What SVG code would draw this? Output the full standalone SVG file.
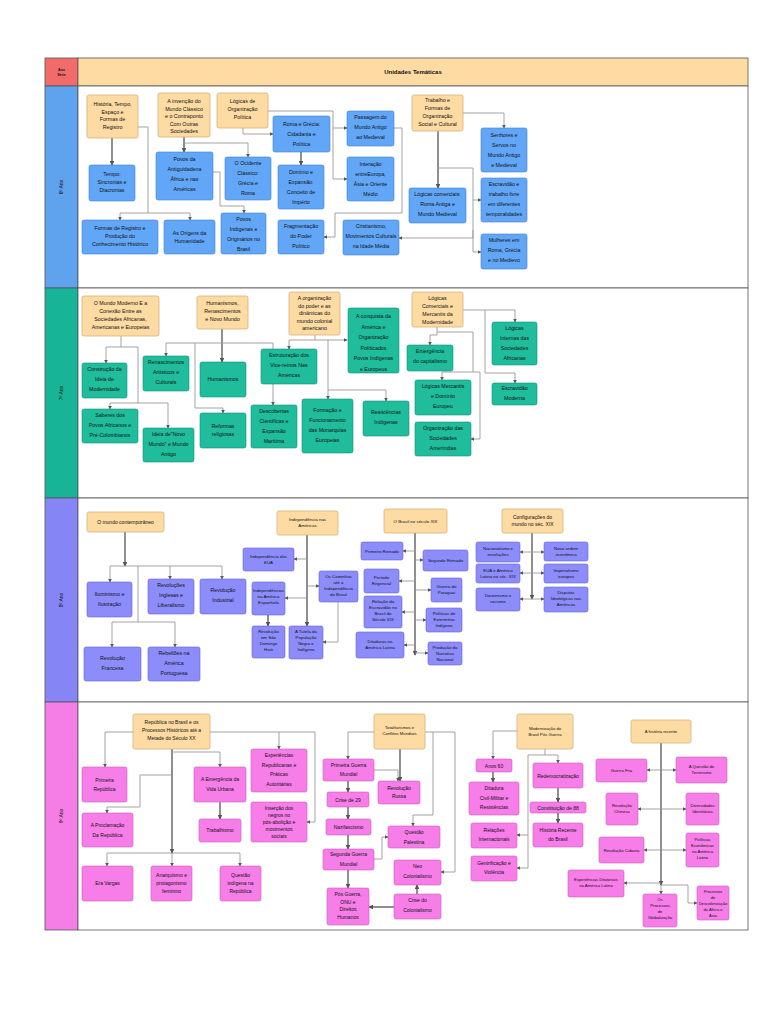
<svg xmlns="http://www.w3.org/2000/svg" width="768" height="1024" viewBox="0 0 768 1024">
<defs>
<marker id="a" viewBox="0 0 6 6" refX="5" refY="3" markerWidth="4" markerHeight="4" orient="auto"><path d="M0,0L6,3L0,6z" fill="#555"/></marker>
<style>
text{font-family:"Liberation Sans",Arial,sans-serif;text-anchor:middle;fill:#111}
.o{fill:#fddba3;stroke:#d6b17a;stroke-width:.8}
.b{fill:#62a6f7;stroke:#3d7fd0;stroke-width:.6}
.t{fill:#1fbd9c;stroke:#12907a;stroke-width:.6}
.p{fill:#8c8cfb;stroke:#6262d0;stroke-width:.6}
.k{fill:#f77ee9;stroke:#c85abc;stroke-width:.6}
.c path{fill:none;stroke:#999;stroke-width:.9;marker-end:url(#a)}
.c path.d{stroke:#444;stroke-width:1.2}
.f6 text,.f7 text{font-size:5.3px}
.f8 text{font-size:4.4px}
.f9 text{font-size:5px}
.lab{font-size:5px}
</style>
</defs>
<rect width="768" height="1024" fill="#fff"/>
<!-- frame -->
<g id="frame">
<rect x="45" y="58" width="33" height="28" fill="#f26b6b" stroke="#555" stroke-width=".8"/>
<rect x="78" y="58" width="670" height="28" fill="#fddba3" stroke="#555" stroke-width=".8"/>
<text x="61.5" y="71" style="font-size:3.5px;font-weight:bold">Ano</text>
<text x="61.5" y="76" style="font-size:3.5px;font-weight:bold">Série</text>
<text x="413" y="74" style="font-size:6px;font-weight:bold">Unidades Temáticas</text>
<rect x="45" y="86" width="33" height="202" fill="#5fa2ee" stroke="#555" stroke-width=".8"/>
<rect x="78" y="86" width="670" height="202" fill="#fff" stroke="#555" stroke-width=".8"/>
<rect x="45" y="288" width="33" height="210" fill="#17b497" stroke="#555" stroke-width=".8"/>
<rect x="78" y="288" width="670" height="210" fill="#fff" stroke="#555" stroke-width=".8"/>
<rect x="45" y="498" width="33" height="204" fill="#8585f5" stroke="#555" stroke-width=".8"/>
<rect x="78" y="498" width="670" height="204" fill="#fff" stroke="#555" stroke-width=".8"/>
<rect x="45" y="702" width="33" height="228" fill="#f57ee6" stroke="#555" stroke-width=".8"/>
<rect x="78" y="702" width="670" height="228" fill="#fff" stroke="#555" stroke-width=".8"/>
<text class="lab" transform="translate(63,187) rotate(-90)">6º Ano</text>
<text class="lab" transform="translate(63,393) rotate(-90)">7º Ano</text>
<text class="lab" transform="translate(63,600) rotate(-90)">8º Ano</text>
<text class="lab" transform="translate(63,816) rotate(-90)">9º Ano</text>
</g>

<g id="connectors" class="c">
<!-- 6 -->
<path class="d" d="M112,138V165"/>
<path d="M138,127H148V213H120V220"/>
<path d="M148,213H190V220"/>
<path class="d" d="M184,137V152"/>
<path d="M184,143H248V157"/>
<path d="M213,172H220V206H244V213"/>
<path d="M243,128V134H273"/>
<path d="M268,111H333V128H347"/>
<path d="M333,128V179H347"/>
<path class="d" d="M301,152V165"/>
<path d="M394,128H402V213H335V237H324"/>
<path d="M463,113H504V128"/>
<path class="d" d="M438,131V188"/>
<path d="M438,168H473V200H481"/>
<path d="M473,200V252H481"/>
<path d="M473,230V238H399"/>
<!-- 7 -->
<path d="M121,336V347H106V363"/>
<path d="M121,347H138V403H110V409"/>
<path d="M138,403H168V428"/>
<path class="d" d="M222,329V362"/>
<path d="M222,343H166V356"/>
<path d="M195,343V408H223V413"/>
<path d="M222,343H273V405"/>
<path d="M315,335V340H289V349"/>
<path d="M315,340H347"/>
<path d="M328,340V390H386V401"/>
<path d="M328,390V399"/>
<path d="M463,310H515V322"/>
<path d="M485,310V373H515V383"/>
<path d="M437,327V335H430V345"/>
<path d="M437,332H473V372H442V380"/>
<path d="M473,372H480V439H471"/>
<!-- 8 -->
<path class="d" d="M125,532V566"/>
<path d="M125,566H110V582"/>
<path d="M125,566H170V579"/>
<path d="M170,566H222V579"/>
<path d="M138,566V622H112V647"/>
<path d="M138,622H175V647"/>
<path class="d" d="M307,535V626"/>
<path d="M307,559H294"/>
<path d="M307,598H285"/>
<path d="M307,586H319"/>
<path d="M338,602V642H323"/>
<path class="d" d="M268,615V626"/>
<path class="d" d="M415,533V655"/>
<path d="M415,551H403"/><path d="M415,581H399"/><path d="M415,612H402"/><path d="M415,645H404"/>
<path d="M415,560H423"/><path d="M415,590H431"/><path d="M415,620H426"/><path d="M415,653H428"/>
<path class="d" d="M532,533V599"/>
<path d="M532,552H520"/><path d="M532,573H520"/><path d="M532,599H520"/>
<path d="M532,552H544"/><path d="M532,573H544"/><path d="M532,599H544"/>
<!-- 9 -->
<path class="d" d="M172,749V853"/>
<path d="M133,732H105V767"/>
<path d="M172,775H140V807H107V813"/>
<path d="M172,752H220V767"/>
<path d="M210,732H279V749"/>
<path d="M279,732H315V822H307"/>
<path class="d" d="M220,802V819"/>
<path d="M172,853H107V866"/>
<path d="M172,853V866"/>
<path d="M172,853H240V866"/>
<path d="M374,732H348V759"/>
<path class="d" d="M400,749V781"/>
<path d="M374,770H398V781"/>
<path d="M425,732H433V815H413V826"/>
<path d="M433,732H455V872H441"/>
<path class="d" d="M348,781V792"/>
<path class="d" d="M348,807V819"/>
<path class="d" d="M348,835V849"/>
<path class="d" d="M348,870V888"/>
<path d="M374,859H382V837H388"/>
<path class="d" d="M394,907H369"/>
<path class="d" d="M417,894V885"/>
<path d="M517,731H493V759"/>
<path class="d" d="M493,772V782"/>
<path d="M545,749V755H528V835H517"/>
<path d="M528,835V868H517"/>
<path d="M545,755H558V763"/>
<path class="d" d="M558,788V802"/>
<path class="d" d="M558,813V823"/>
<path class="d" d="M661,743V885"/>
<path d="M661,770H647"/><path d="M661,809H638"/><path d="M661,850H644"/><path d="M661,883H624"/>
<path d="M661,770H676"/><path d="M661,809H686"/><path d="M661,850H686"/>
<path d="M661,885V894"/>
<path d="M661,885H688V903H697"/>
</g>

<!-- 6º ano -->
<g class="f6">
<g id="n6a"><rect class="o" x="87" y="95" width="51" height="43" rx="2"/><text x="112.5" y="106">História, Tempo,<tspan x="112.5" dy="7.5">Espaço e</tspan><tspan x="112.5" dy="7.5">Formas de</tspan><tspan x="112.5" dy="7.5">Registro</tspan></text></g>
<g id="n6b"><rect class="b" x="89" y="165" width="46" height="36" rx="2"/><text x="112" y="176">Tempo:<tspan x="112" dy="8">Sincronias e</tspan><tspan x="112" dy="8">Diacronias</tspan></text></g>
<g id="n6c"><rect class="b" x="82" y="220" width="76" height="34" rx="2"/><text x="120" y="230">Formas de Registro e<tspan x="120" dy="8">Produção do</tspan><tspan x="120" dy="8">Conhecimento Histórico</tspan></text></g>
<g id="n6d"><rect class="b" x="164" y="220" width="51" height="34" rx="2"/><text x="189.5" y="235">As Origens da<tspan x="189.5" dy="8">Humanidade</tspan></text></g>
<g id="n6e"><rect class="o" x="158" y="93" width="52" height="44" rx="2"/><text x="184" y="103">A invenção do<tspan x="184" dy="7.5">Mundo Clássico</tspan><tspan x="184" dy="7.5">e o Contraponto</tspan><tspan x="184" dy="7.5">Com Outras</tspan><tspan x="184" dy="7.5">Sociedades</tspan></text></g>
<g id="n6f"><rect class="b" x="156" y="152" width="57" height="48" rx="2"/><text x="184.5" y="161">Povos da<tspan x="184.5" dy="10">Antiguidadena</tspan><tspan x="184.5" dy="10">África e nas</tspan><tspan x="184.5" dy="10">Américas</tspan></text></g>
<g id="n6g"><rect class="b" x="225" y="157" width="46" height="43" rx="2"/><text x="248" y="165">O Ocidente<tspan x="248" dy="10">Clássico:</tspan><tspan x="248" dy="10">Grécia e</tspan><tspan x="248" dy="10">Roma</tspan></text></g>
<g id="n6h"><rect class="b" x="221" y="213" width="45" height="41" rx="2"/><text x="243.5" y="221">Povos<tspan x="243.5" dy="10">Indígenas e</tspan><tspan x="243.5" dy="10">Originários no</tspan><tspan x="243.5" dy="10">Brasil</tspan></text></g>
<g id="n6i"><rect class="o" x="217" y="93" width="51" height="35" rx="2"/><text x="242.5" y="103">Lógicas de<tspan x="242.5" dy="8">Organização</tspan><tspan x="242.5" dy="8">Política</tspan></text></g>
<g id="n6j"><rect class="b" x="273" y="116" width="57" height="36" rx="2"/><text x="301.5" y="126">Roma e Grécia:<tspan x="301.5" dy="10">Cidadania e</tspan><tspan x="301.5" dy="10">Política</tspan></text></g>
<g id="n6k"><rect class="b" x="278" y="165" width="46" height="44" rx="2"/><text x="301" y="174">Domínio e<tspan x="301" dy="10">Expansão:</tspan><tspan x="301" dy="10">Conceito de</tspan><tspan x="301" dy="10">Império</tspan></text></g>
<g id="n6l"><rect class="b" x="278" y="220" width="46" height="34" rx="2"/><text x="301" y="228">Fragmentação<tspan x="301" dy="10">do Poder</tspan><tspan x="301" dy="10">Político</tspan></text></g>
<g id="n6m"><rect class="b" x="347" y="111" width="47" height="35" rx="2"/><text x="370.5" y="119">Passagem do<tspan x="370.5" dy="10">Mundo Antigo</tspan><tspan x="370.5" dy="10">ao Medieval</tspan></text></g>
<g id="n6n"><rect class="b" x="347" y="157" width="47" height="44" rx="2"/><text x="370.5" y="166">Interação<tspan x="370.5" dy="10">entreEuropa,</tspan><tspan x="370.5" dy="10">Ásia e Oriente</tspan><tspan x="370.5" dy="10">Médio</tspan></text></g>
<g id="n6o"><rect class="b" x="343" y="220" width="56" height="35" rx="2"/><text x="371" y="228">Cristianismo,<tspan x="371" dy="10">Movimentos Culturais</tspan><tspan x="371" dy="10">na Idade Média</tspan></text></g>
<g id="n6p"><rect class="o" x="412" y="95" width="51" height="36" rx="2"/><text x="437.5" y="102">Trabalho e<tspan x="437.5" dy="8">Formas de</tspan><tspan x="437.5" dy="8">Organização</tspan><tspan x="437.5" dy="8">Social e Cultural</tspan></text></g>
<g id="n6q"><rect class="b" x="481" y="128" width="46" height="44" rx="2"/><text x="504" y="137">Senhores e<tspan x="504" dy="10">Servos no</tspan><tspan x="504" dy="10">Mundo Antigo</tspan><tspan x="504" dy="10">e Medieval</tspan></text></g>
<g id="n6r"><rect class="b" x="409" y="188" width="57" height="35" rx="2"/><text x="437.5" y="196">Lógicas comerciais:<tspan x="437.5" dy="10">Roma Antiga e</tspan><tspan x="437.5" dy="10">Mundo Medieval</tspan></text></g>
<g id="n6s"><rect class="b" x="481" y="178" width="46" height="44" rx="2"/><text x="504" y="186">Escravidão e<tspan x="504" dy="10">trabalho livre</tspan><tspan x="504" dy="10">em diferentes</tspan><tspan x="504" dy="10">temporalidades</tspan></text></g>
<g id="n6t"><rect class="b" x="481" y="234" width="46" height="35" rx="2"/><text x="504" y="242">Mulheres em<tspan x="504" dy="10">Roma, Grécia</tspan><tspan x="504" dy="10">e no Medievo</tspan></text></g>
</g>

<!-- 7º ano -->
<g class="f7">
<g id="n7a"><rect class="o" x="82" y="296" width="77" height="40" rx="2"/><text x="120.5" y="305">O Mundo Moderno E a<tspan x="120.5" dy="8">Conexão Entre as</tspan><tspan x="120.5" dy="8">Sociedades Africanas,</tspan><tspan x="120.5" dy="8">Americanas e Europeias</tspan></text></g>
<g id="n7b"><rect class="t" x="82" y="363" width="45" height="35" rx="2"/><text x="104.5" y="371">Construção da<tspan x="104.5" dy="10">Ideia de</tspan><tspan x="104.5" dy="10">Modernidade</tspan></text></g>
<g id="n7c"><rect class="t" x="82" y="409" width="56" height="34" rx="2"/><text x="110" y="417">Saberes dos<tspan x="110" dy="10">Povos Africanos e</tspan><tspan x="110" dy="10">Pré-Colombianos</tspan></text></g>
<g id="n7d"><rect class="t" x="143" y="428" width="51" height="34" rx="2"/><text x="168.5" y="436">Ideia de"Novo<tspan x="168.5" dy="10">Mundo" e Mundo</tspan><tspan x="168.5" dy="10">Antigo</tspan></text></g>
<g id="n7e"><rect class="o" x="197" y="296" width="51" height="33" rx="2"/><text x="222.5" y="305">Humanismos,<tspan x="222.5" dy="8">Renascimentos</tspan><tspan x="222.5" dy="8">e Novo Mundo</tspan></text></g>
<g id="n7f"><rect class="t" x="143" y="356" width="46" height="35" rx="2"/><text x="166" y="364">Renascimentos<tspan x="166" dy="10">Artísticos e</tspan><tspan x="166" dy="10">Culturais</tspan></text></g>
<g id="n7g"><rect class="t" x="200" y="362" width="46" height="35" rx="2"/><text x="223" y="381">Humanismos</text></g>
<g id="n7h"><rect class="t" x="200" y="413" width="46" height="35" rx="2"/><text x="223" y="428">Reformas<tspan x="223" dy="8">religiosas</tspan></text></g>
<g id="n7i"><rect class="t" x="251" y="405" width="46" height="43" rx="2"/><text x="274" y="413">Descobertas<tspan x="274" dy="10">Científicas e</tspan><tspan x="274" dy="10">Expansão</tspan><tspan x="274" dy="10">Marítima</tspan></text></g>
<g id="n7j"><rect class="o" x="289" y="292" width="51" height="43" rx="2"/><text x="314.5" y="300">A organização<tspan x="314.5" dy="7.5">do poder e as</tspan><tspan x="314.5" dy="7.5">dinâmicas do</tspan><tspan x="314.5" dy="7.5">mundo colonial</tspan><tspan x="314.5" dy="7.5">americano</tspan></text></g>
<g id="n7k"><rect class="t" x="261" y="349" width="56" height="35" rx="2"/><text x="289" y="357">Estruturação dos<tspan x="289" dy="10">Vice-reinos Nas</tspan><tspan x="289" dy="10">Américas</tspan></text></g>
<g id="n7l"><rect class="t" x="302" y="399" width="51" height="54" rx="2"/><text x="327.5" y="412">Formação e<tspan x="327.5" dy="10">Funcionamento</tspan><tspan x="327.5" dy="10">das Monarquias</tspan><tspan x="327.5" dy="10">Europeias</tspan></text></g>
<g id="n7m"><rect class="t" x="348" y="308" width="51" height="65" rx="2"/><text x="373.5" y="318">A conquista da<tspan x="373.5" dy="10.5">América e</tspan><tspan x="373.5" dy="10.5">Organização</tspan><tspan x="373.5" dy="10.5">Políticados</tspan><tspan x="373.5" dy="10.5">Povos Indígenas</tspan><tspan x="373.5" dy="10.5">e Europeus</tspan></text></g>
<g id="n7n"><rect class="t" x="363" y="401" width="46" height="35" rx="2"/><text x="386" y="414">Resistências<tspan x="386" dy="10">Indígenas</tspan></text></g>
<g id="n7o"><rect class="o" x="412" y="292" width="51" height="35" rx="2"/><text x="437.5" y="300">Lógicas<tspan x="437.5" dy="8">Comerciais e</tspan><tspan x="437.5" dy="8">Mercantis da</tspan><tspan x="437.5" dy="8">Modernidade</tspan></text></g>
<g id="n7p"><rect class="t" x="407" y="345" width="46" height="26" rx="2"/><text x="430" y="353">Emergência<tspan x="430" dy="10">do capitalismo</tspan></text></g>
<g id="n7q"><rect class="t" x="415" y="380" width="56" height="35" rx="2"/><text x="443" y="388">Lógicas Mercantis<tspan x="443" dy="10">e Domínio</tspan><tspan x="443" dy="10">Europeu</tspan></text></g>
<g id="n7r"><rect class="t" x="415" y="422" width="56" height="34" rx="2"/><text x="443" y="430">Organização das<tspan x="443" dy="10">Sociedades</tspan><tspan x="443" dy="10">Ameríndias</tspan></text></g>
<g id="n7s"><rect class="t" x="492" y="322" width="45" height="43" rx="2"/><text x="514.5" y="330">Lógicas<tspan x="514.5" dy="10">Internas das</tspan><tspan x="514.5" dy="10">Sociedades</tspan><tspan x="514.5" dy="10">Africanas</tspan></text></g>
<g id="n7t"><rect class="t" x="492" y="383" width="45" height="22" rx="2"/><text x="514.5" y="390">Escravidão<tspan x="514.5" dy="10">Moderna</tspan></text></g>
</g>

<!-- 8º ano -->
<g class="f8">
<g id="n8a"><rect class="o" x="87" y="512" width="77" height="20" rx="2"/><text x="125.5" y="523.5" style="font-size:5px">O mundo contemporâneo</text></g>
<g id="n8b"><rect class="p" x="87" y="582" width="45" height="35" rx="2"/><text x="109.5" y="596" style="font-size:5.3px">Iluminismo e<tspan x="109.5" dy="10">Ilustração</tspan></text></g>
<g id="n8c"><rect class="p" x="148" y="579" width="46" height="35" rx="2"/><text x="171" y="587" style="font-size:5.3px">Revoluções<tspan x="171" dy="10">Inglesas e</tspan><tspan x="171" dy="10">Liberalismo</tspan></text></g>
<g id="n8d"><rect class="p" x="200" y="579" width="46" height="35" rx="2"/><text x="223" y="592" style="font-size:5.3px">Revolução<tspan x="223" dy="10">Industrial</tspan></text></g>
<g id="n8e"><rect class="p" x="84" y="647" width="57" height="34" rx="2"/><text x="112.5" y="660" style="font-size:5.3px">Revolução<tspan x="112.5" dy="10">Francesa</tspan></text></g>
<g id="n8f"><rect class="p" x="148" y="647" width="52" height="34" rx="2"/><text x="174" y="655" style="font-size:5.3px">Rebeliões na<tspan x="174" dy="10">América</tspan><tspan x="174" dy="10">Portuguesa</tspan></text></g>
<g id="n8g"><rect class="o" x="277" y="511" width="61" height="24" rx="2"/><text x="307.5" y="521">Independência nas<tspan x="307.5" dy="6">Américas</tspan></text></g>
<g id="n8h"><rect class="p" x="243" y="548" width="51" height="23" rx="2"/><text x="268.5" y="558">Independência dos<tspan x="268.5" dy="6">EUA</tspan></text></g>
<g id="n8i"><rect class="p" x="252" y="582" width="33" height="33" rx="2"/><text x="268.5" y="592">Independências<tspan x="268.5" dy="6">na América</tspan><tspan x="268.5" dy="6">Espanhola</tspan></text></g>
<g id="n8j"><rect class="p" x="252" y="626" width="33" height="32" rx="2"/><text x="268.5" y="633">Revolução<tspan x="268.5" dy="6">em São</tspan><tspan x="268.5" dy="6">Domingo</tspan><tspan x="268.5" dy="6">Haiti</tspan></text></g>
<g id="n8k"><rect class="p" x="289" y="626" width="34" height="33" rx="2"/><text x="306" y="633">A Tutela da<tspan x="306" dy="6">População</tspan><tspan x="306" dy="6">Negra e</tspan><tspan x="306" dy="6">Indígena</tspan></text></g>
<g id="n8l"><rect class="p" x="319" y="571" width="39" height="31" rx="2"/><text x="338.5" y="578">Os Caminhos<tspan x="338.5" dy="6">até a</tspan><tspan x="338.5" dy="6">Independência</tspan><tspan x="338.5" dy="6">do Brasil</tspan></text></g>
<g id="n8m"><rect class="o" x="384" y="509" width="63" height="24" rx="2"/><text x="415.5" y="522.5">O Brasil no século XIX</text></g>
<g id="n8n"><rect class="p" x="361" y="542" width="42" height="18" rx="2"/><text x="382" y="552.5">Primeiro Reinado</text></g>
<g id="n8o"><rect class="p" x="423" y="550" width="45" height="21" rx="2"/><text x="445.5" y="562">Segundo Reinado</text></g>
<g id="n8p"><rect class="p" x="364" y="569" width="35" height="24" rx="2"/><text x="381.5" y="579">Período<tspan x="381.5" dy="6">Regencial</tspan></text></g>
<g id="n8q"><rect class="p" x="431" y="578" width="31" height="24" rx="2"/><text x="446.5" y="588">Guerra do<tspan x="446.5" dy="6">Paraguai</tspan></text></g>
<g id="n8r"><rect class="p" x="364" y="596" width="38" height="32" rx="2"/><text x="383" y="603">Relação da<tspan x="383" dy="6">Escravidão no</tspan><tspan x="383" dy="6">Brasil do</tspan><tspan x="383" dy="6">Século XIX</tspan></text></g>
<g id="n8s"><rect class="p" x="426" y="608" width="36" height="24" rx="2"/><text x="444" y="615">Políticas de<tspan x="444" dy="6">Extermínio</tspan><tspan x="444" dy="6">Indígena</tspan></text></g>
<g id="n8t"><rect class="p" x="356" y="632" width="48" height="26" rx="2"/><text x="380" y="643">Ditaduras na<tspan x="380" dy="6">América Latina</tspan></text></g>
<g id="n8u"><rect class="p" x="428" y="642" width="34" height="23" rx="2"/><text x="445" y="649">Produção da<tspan x="445" dy="6">Narrativa</tspan><tspan x="445" dy="6">Nacional</tspan></text></g>
<g id="n8v"><rect class="o" x="502" y="509" width="61" height="24" rx="2"/><text x="532.5" y="519" style="font-size:5px">Configurações do<tspan x="532.5" dy="7">mundo no séc. XIX</tspan></text></g>
<g id="n8w"><rect class="p" x="476" y="542" width="44" height="20" rx="2"/><text x="498" y="550">Nacionalismo e<tspan x="498" dy="6">revoluções</tspan></text></g>
<g id="n8x"><rect class="p" x="476" y="564" width="44" height="19" rx="2"/><text x="498" y="572">EUA e América<tspan x="498" dy="6">Latina no séc. XIX</tspan></text></g>
<g id="n8y"><rect class="p" x="476" y="588" width="44" height="23" rx="2"/><text x="498" y="597">Darwinismo e<tspan x="498" dy="6">racismo</tspan></text></g>
<g id="n8z"><rect class="p" x="544" y="542" width="44" height="19" rx="2"/><text x="566" y="550">Nova ordem<tspan x="566" dy="6">econômica</tspan></text></g>
<g id="n8aa"><rect class="p" x="544" y="564" width="44" height="19" rx="2"/><text x="566" y="572">Imperialismo<tspan x="566" dy="6">europeu</tspan></text></g>
<g id="n8ab"><rect class="p" x="544" y="587" width="44" height="25" rx="2"/><text x="566" y="594">Disputas<tspan x="566" dy="6">Ideológicas nas</tspan><tspan x="566" dy="6">Américas</tspan></text></g>
</g>

<!-- 9º ano -->
<g class="f9">
<g id="n9a"><rect class="o" x="133" y="714" width="77" height="35" rx="2"/><text x="171.5" y="724">República no Brasil e os<tspan x="171.5" dy="8">Processos Históricos até a</tspan><tspan x="171.5" dy="8">Metade do Século XX</tspan></text></g>
<g id="n9b"><rect class="k" x="82" y="767" width="45" height="35" rx="2"/><text x="104.5" y="782">Primeira<tspan x="104.5" dy="9">República</tspan></text></g>
<g id="n9c"><rect class="k" x="82" y="813" width="51" height="34" rx="2"/><text x="107.5" y="827">A Proclamação<tspan x="107.5" dy="10">Da República</tspan></text></g>
<g id="n9d"><rect class="k" x="82" y="866" width="51" height="35" rx="2"/><text x="107.5" y="885">Era Vargas</text></g>
<g id="n9e"><rect class="k" x="151" y="866" width="41" height="35" rx="2"/><text x="171.5" y="877">Anarquismo e<tspan x="171.5" dy="8">protagonismo</tspan><tspan x="171.5" dy="8">feminino</tspan></text></g>
<g id="n9f"><rect class="k" x="220" y="866" width="41" height="35" rx="2"/><text x="240.5" y="877">Questão<tspan x="240.5" dy="8">indígena na</tspan><tspan x="240.5" dy="8">República</tspan></text></g>
<g id="n9g"><rect class="k" x="194" y="767" width="52" height="35" rx="2"/><text x="220" y="781">A Emergência da<tspan x="220" dy="10">Vida Urbana</tspan></text></g>
<g id="n9h"><rect class="k" x="199" y="819" width="42" height="23" rx="2"/><text x="220" y="832">Trabalhismo</text></g>
<g id="n9i"><rect class="k" x="251" y="749" width="56" height="43" rx="2"/><text x="279" y="757">Experiências<tspan x="279" dy="9.5">Republicanas e</tspan><tspan x="279" dy="9.5">Práticas</tspan><tspan x="279" dy="9.5">Autoritárias</tspan></text></g>
<g id="n9j"><rect class="k" x="251" y="802" width="56" height="40" rx="2"/><text x="279" y="810">Inserção dos<tspan x="279" dy="7">negros no</tspan><tspan x="279" dy="7">pós-abolição e</tspan><tspan x="279" dy="7">movimentos</tspan><tspan x="279" dy="7">sociais</tspan></text></g>
<g id="n9k"><rect class="o" x="374" y="714" width="51" height="35" rx="2"/><text x="399.5" y="729" style="font-size:4.2px">Totalitarismos e<tspan x="399.5" dy="6">Conflitos Mundiais</tspan></text></g>
<g id="n9l"><rect class="k" x="323" y="759" width="51" height="22" rx="2"/><text x="348.5" y="767">Primeira Guerra<tspan x="348.5" dy="9">Mundial</tspan></text></g>
<g id="n9m"><rect class="k" x="378" y="781" width="42" height="23" rx="2"/><text x="399" y="790">Revolução<tspan x="399" dy="8">Russa</tspan></text></g>
<g id="n9n"><rect class="k" x="327" y="792" width="42" height="15" rx="2"/><text x="348" y="801.5">Crise de 29</text></g>
<g id="n9o"><rect class="k" x="326" y="819" width="45" height="16" rx="2"/><text x="348.5" y="828.5">Nazifascismo</text></g>
<g id="n9p"><rect class="k" x="323" y="849" width="51" height="21" rx="2"/><text x="348.5" y="856">Segunda Guerra<tspan x="348.5" dy="10">Mundial</tspan></text></g>
<g id="n9q"><rect class="k" x="388" y="826" width="52" height="22" rx="2"/><text x="414" y="834">Questão<tspan x="414" dy="10">Palestina</tspan></text></g>
<g id="n9r"><rect class="k" x="394" y="860" width="47" height="25" rx="2"/><text x="417.5" y="868">Neo<tspan x="417.5" dy="10">Colonialismo</tspan></text></g>
<g id="n9s"><rect class="k" x="394" y="894" width="47" height="25" rx="2"/><text x="417.5" y="902">Crise do<tspan x="417.5" dy="10">Colonialismo</tspan></text></g>
<g id="n9t"><rect class="k" x="327" y="888" width="42" height="37" rx="2"/><text x="348" y="896">Pós Guerra,<tspan x="348" dy="7.5">ONU e</tspan><tspan x="348" dy="7.5">Direitos</tspan><tspan x="348" dy="7.5">Humanos</tspan></text></g>
<g id="n9u"><rect class="o" x="517" y="714" width="56" height="35" rx="2"/><text x="545" y="730" style="font-size:4.2px">Modernização do<tspan x="545" dy="6">Brasil Pós Guerra</tspan></text></g>
<g id="n9v"><rect class="k" x="476" y="759" width="36" height="13" rx="2"/><text x="494" y="767.5">Anos 60</text></g>
<g id="n9w"><rect class="k" x="469" y="782" width="50" height="33" rx="2"/><text x="494" y="790">Ditadura<tspan x="494" dy="9.5">Civil-Militar e</tspan><tspan x="494" dy="9.5">Resistências</tspan></text></g>
<g id="n9x"><rect class="k" x="471" y="823" width="46" height="25" rx="2"/><text x="494" y="832">Relações<tspan x="494" dy="9">Internacionais</tspan></text></g>
<g id="n9y"><rect class="k" x="471" y="856" width="46" height="25" rx="2"/><text x="494" y="865">Gentrificação e<tspan x="494" dy="9">Violência</tspan></text></g>
<g id="n9z"><rect class="k" x="533" y="763" width="50" height="25" rx="2"/><text x="558" y="777.5">Redemocratização</text></g>
<g id="n9aa"><rect class="k" x="530" y="802" width="56" height="11" rx="2"/><text x="558" y="809.5">Constituição de 88</text></g>
<g id="n9ab"><rect class="k" x="533" y="823" width="50" height="24" rx="2"/><text x="558" y="832">História Recente<tspan x="558" dy="9">do Brasil</tspan></text></g>
<g id="n9ac"><rect class="o" x="631" y="720" width="60" height="23" rx="2"/><text x="661" y="733" style="font-size:4.2px">A história recente</text></g>
<g id="n9ad"><rect class="k" x="596" y="759" width="51" height="23" rx="2"/><text x="621.5" y="772" style="font-size:4.2px">Guerra Fria</text></g>
<g id="n9ae"><rect class="k" x="676" y="757" width="51" height="26" rx="2"/><text x="701.5" y="768" style="font-size:4.2px">A Questão do<tspan x="701.5" dy="6">Terrorismo</tspan></text></g>
<g id="n9af"><rect class="k" x="606" y="793" width="32" height="32" rx="2"/><text x="622" y="807" style="font-size:4.2px">Revolução<tspan x="622" dy="6">Chinesa</tspan></text></g>
<g id="n9ag"><rect class="k" x="686" y="793" width="33" height="32" rx="2"/><text x="702.5" y="807" style="font-size:4.2px">Diversidades<tspan x="702.5" dy="6">Identitárias</tspan></text></g>
<g id="n9ah"><rect class="k" x="599" y="837" width="45" height="26" rx="2"/><text x="621.5" y="851.5" style="font-size:4.2px">Revolução Cubana</text></g>
<g id="n9ai"><rect class="k" x="686" y="833" width="33" height="34" rx="2"/><text x="702.5" y="841" style="font-size:4.2px">Políticas<tspan x="702.5" dy="6">Econômicas</tspan><tspan x="702.5" dy="6">na América</tspan><tspan x="702.5" dy="6">Latina</tspan></text></g>
<g id="n9aj"><rect class="k" x="568" y="870" width="56" height="27" rx="2"/><text x="596" y="881" style="font-size:4.2px">Experiências Ditatoriais<tspan x="596" dy="6">na América Latina</tspan></text></g>
<g id="n9ak"><rect class="k" x="643" y="894" width="34" height="33" rx="2"/><text x="660" y="901" style="font-size:4.2px">Os<tspan x="660" dy="6">Processos</tspan><tspan x="660" dy="6">de</tspan><tspan x="660" dy="6">Globalização</tspan></text></g>
<g id="n9al"><rect class="k" x="697" y="886" width="32" height="34" rx="2"/><text x="713" y="893" style="font-size:4px">Processos<tspan x="713" dy="6">de</tspan><tspan x="713" dy="6">Descolonização</tspan><tspan x="713" dy="6">da África e</tspan><tspan x="713" dy="6">Ásia</tspan></text></g>
</g>
</svg>
